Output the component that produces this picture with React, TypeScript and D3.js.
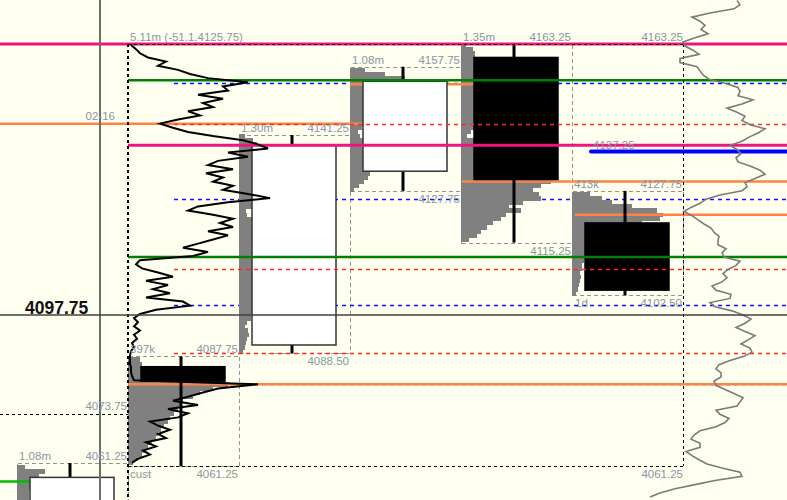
import React from 'react';
import * as d3 from 'd3';

const W = 787;
const H = 500;

// ---- sessions (daily candles + volume profiles) ----
const sessionVolume = ['1.08m', '397k', '1.30m', '1.08m', '1.35m', '413k'];
const sessionOpen = [4040.0, 4085.25, 4090.5, 4132.5, 4160.0, 4120.0];
const sessionHigh = [4061.25, 4087.75, 4141.25, 4157.75, 4163.25, 4127.75];
const sessionLow = [4035.0, 4061.25, 4088.5, 4127.75, 4115.25, 4102.5];
const sessionClose = [4058.5, 4081.75, 4138.75, 4154.25, 4130.5, 4103.75];
const highLabels = ['4061.25', '4087.75', '4141.25', '4157.75', '4163.25', '4127.75'];
const lowLabels = ['', '4061.25', '4088.50', '4127.75', '4115.25', '4102.50'];

// volume profile per session: first (top) price level, then one value per 1-point level going down
const profileTop = [4061, 4087, 4141, 4157, 4163, 4127];
const profile0 = [8, 28, 22, 16, 14, 14, 12, 12, 12];
const profile1 = [12, 14, 25, 35, 45, 60, 100, 85, 72, 65, 55, 52, 50, 46, 42, 40, 36, 33, 30, 28, 24, 20, 18, 14, 10, 5];
const profile2 = [6, 14, 18, 16, 16, 17, 16, 18, 16, 17, 18, 16, 17, 18, 16, 17, 16, 14, 7, 8, 15, 17, 16, 18, 16, 17, 18, 16, 17, 18, 17, 16, 18, 16, 17, 16, 15, 16, 17, 15, 16, 14, 15, 14, 12, 8, 6, 9, 10, 8, 7, 6, 4];
const profile3 = [15, 35, 55, 30, 20, 20, 22, 20, 18, 20, 22, 20, 18, 18, 12, 8, 10, 18, 20, 22, 20, 18, 20, 22, 24, 20, 18, 14, 9, 4];
const profile4 = [5, 12, 14, 14, 14, 14, 15, 16, 18, 16, 16, 18, 18, 17, 18, 20, 22, 20, 24, 22, 22, 10, 6, 20, 26, 14, 30, 34, 38, 40, 44, 50, 60, 90, 80, 72, 78, 80, 62, 48, 60, 45, 40, 32, 26, 20, 16, 8];
const profile5 = [18, 30, 40, 60, 85, 91, 88, 70, 55, 45, 40, 35, 30, 25, 20, 16, 12, 10, 10, 8, 9, 8, 7, 6, 4];
const profiles = [profile0, profile1, profile2, profile3, profile4, profile5];

// composite TPO line (black), from 4163 downwards by 1 point
const compositeTop = 4163;
const compositeLine = [
  3, 8, 12, 20, 38, 30, 50, 62, 80, 120,
  95, 100, 70, 95, 75, 85, 60, 72, 50, 32,
  45, 60, 85, 115, 130, 140, 100, 120, 90, 80,
  105, 78, 95, 85, 105, 95, 120, 142, 100, 70,
  60, 85, 105, 92, 105, 80, 100, 85, 70, 55,
  80, 65, 12, 8, 14, 30, 45, 18, 40, 25,
  42, 18, 55, 62, 28, 12, 6, 10, 6, 12,
  6, 9, 4, 6, 3, 2, 2, 2, 3, 3,
  4, 6, 130, 90, 75, 60, 45, 70, 40, 60,
  50, 22, 30, 42, 30, 38, 18, 28, 15, 22,
  10, 4,
];

// right-hand gray trace, from 4173.75 downwards by 1 point
const traceTop = 4173.75;
const traceLine = [
  117, 120, 114, 90, 72, 80, 85, 81, 88, 75,
  63, 65, 73, 79, 60, 60, 77, 80, 83, 89,
  105, 118, 120, 118, 133, 122, 107, 117, 125, 122,
  130, 145, 138, 129, 122, 110, 117, 121, 116, 118,
  130, 140, 145, 135, 125, 127, 122, 100, 86, 80,
  71, 64, 72, 78, 84, 91, 94, 99, 98, 98,
  106, 102, 104, 120, 116, 108, 103, 107, 102, 92,
  96, 111, 110, 90, 95, 112, 123, 131, 125, 116,
  125, 135, 128, 121, 130, 132, 124, 110, 99, 96,
  101, 101, 94, 96, 105, 114, 123, 120, 117, 96,
  100, 109, 105, 96, 80, 74, 71, 80, 80, 66,
  72, 79, 87, 102, 120, 122, 95, 75, 55, 40,
  30,
];

// horizontal levels
const magentaLevels = [4163.25, 4138.75];
const greenLevels = [4154.5, 4111.75, 4057.5];
const orangeLevels = [4144.0, 4153.5, 4130.0, 4122.0, 4081.0];
const blueDashLevels = [4153.75, 4125.75, 4100.25, 4081.0];
const redDashLevels = [4144.0, 4108.75, 4088.5];
const blueSolidLevels = [4137.25];
const crossPrice = 4097.75;
const crossPriceLabel = '4097.75';
const priorLevel = 4073.75;
const compositeHigh = 4163.25;
const compositeLow = 4061.25;
const compositeTitle = '5.11m (-51.1,4125.75)';
const dateLabel = '02-16';

const TXT = '#8896a6';
const FONT = 'Liberation Sans, Arial, sans-serif';

export default function App() {
  const y = d3.scaleLinear().domain([4061.25, 4163.25]).range([466, 44]);
  const xs = d3.scaleLinear().domain([0, 6]).range([17, 683]);
  const bx = d3.scaleLinear().domain([0, 150]).range([128, 278]);
  const tx = d3.scaleLinear().domain([0, 150]).range([620, 770]);
  const pw = d3.scaleLinear().domain([0, 100]).range([0, 100]);
  const yc = (p: number) => Math.round(y(p)) + 0.5;

  const lineComposite = d3
    .line<number>()
    .x((v) => bx(v))
    .y((_, i) => y(compositeTop - i));
  const lineTrace = d3
    .line<number>()
    .x((v) => tx(v))
    .y((_, i) => y(traceTop - i));

  const orangeExt: [number, number][] = [[0, 363], [350, 476], [462, W], [575, W], [128, W]];
  const greenExt: [number, number][] = [[128, W], [128, W], [0, 30]];
  const magentaExt: [number, number][] = [[0, W], [128, W]];

  const hl = (p: number, x1: number, x2: number, stroke: string, sw: number, dash?: string, key?: string) => (
    <line key={key} x1={x1} x2={x2} y1={y(p)} y2={y(p)} stroke={stroke} strokeWidth={sw} strokeDasharray={dash} />
  );
  const dl = (p: number, x1: number, x2: number, stroke: string, key: string) => (
    <line key={key} x1={x1} x2={x2} y1={yc(p)} y2={yc(p)} stroke={stroke} strokeWidth={1.6} strokeDasharray="4,4" />
  );

  return (
    <svg width={W} height={H} style={{ position: 'absolute', left: 0, top: 0, display: 'block' }}>
      <rect x={0} y={0} width={W} height={H} fill="#fffff0" />

      {/* session boxes */}
      {sessionHigh.map((h, i) => {
        const x1 = Math.round(xs(i)) + 0.5;
        const x2 = Math.round(xs(i + 1)) + 0.5;
        const yt = Math.round(i === 0 ? y(h) - 3 : y(h)) + 0.5;
        const yb = Math.round(y(sessionLow[i])) + 0.5;
        return (
          <g key={'box' + i} stroke="#939393" strokeWidth={1} strokeDasharray="4,3" fill="none" shapeRendering="crispEdges">
            <line x1={x1} x2={x2} y1={yt} y2={yt} />
            {i > 0 && <line x1={x1} x2={x2} y1={yb} y2={yb} />}
            <line x1={x2} x2={x2} y1={yt} y2={Math.min(yb, H)} />
            <line x1={x1} x2={x1} y1={yt} y2={Math.min(yb, H)} />
          </g>
        );
      })}

      {/* blue dashed value-area lines (under profiles) */}
      {blueDashLevels.map((p, i) => dl(p, 174, W, '#1010ff', 'bd' + i))}

      {/* gray volume profiles */}
      {profiles.map((vals, s) => (
        <g key={'pf' + s} fill="#808080" shapeRendering="crispEdges">
          {vals.map((v, k) => {
            const p = profileTop[s] - k;
            const yt = y(p + 0.5);
            const yb = y(p - 0.5);
            return <rect key={k} x={xs(s)} y={yt} width={pw(v)} height={yb - yt + 0.4} />;
          })}
        </g>
      ))}

      {/* orange POC lines */}
      {orangeLevels.map((p, i) => hl(p, orangeExt[i][0], orangeExt[i][1], '#ff8444', 2.5, undefined, 'or' + i))}
      {/* green line bottom-left (under candle) */}
      {hl(greenLevels[2], greenExt[2][0], greenExt[2][1], '#00c000', 2.5, undefined, 'g2')}
      {/* prior level dashed */}
      <line x1={0} x2={128} y1={yc(priorLevel)} y2={yc(priorLevel)} stroke="#000" strokeWidth={1} strokeDasharray="3,3" shapeRendering="crispEdges" />

      {/* candles */}
      {sessionOpen.map((o, i) => {
        const c = sessionClose[i];
        const up = c >= o;
        const xc = xs(i) + 53;
        const yTop = y(Math.max(o, c));
        const yBot = y(Math.min(o, c));
        return (
          <g key={'c' + i}>
            <line x1={xc} x2={xc} y1={i === 0 ? y(sessionHigh[i]) - 3 : y(sessionHigh[i])} y2={y(sessionLow[i])} stroke="#000" strokeWidth={3} />
            <rect
              x={xs(i) + 13}
              y={yTop}
              width={84}
              height={yBot - yTop}
              fill={up ? '#ffffff' : '#000000'}
              stroke={up ? '#333' : '#000'}
              strokeWidth={1.5}
            />
          </g>
        );
      })}

      {/* green, magenta, red dashed, blue solid on top */}
      {greenLevels.slice(0, 2).map((p, i) => hl(p, greenExt[i][0], greenExt[i][1], '#008000', 2.5, undefined, 'g' + i))}
      {redDashLevels.map((p, i) => dl(p, 174, W, '#ff2a2a', 'rd' + i))}
      {magentaLevels.map((p, i) => hl(p, magentaExt[i][0], magentaExt[i][1], '#f0147f', 3, undefined, 'm' + i))}
      {blueSolidLevels.map((p, i) => (
        <line key={'bs' + i} x1={591} x2={W} y1={y(p)} y2={y(p)} stroke="#0000ff" strokeWidth={4} strokeLinecap="round" />
      ))}

      {/* composite box */}
      <g stroke="#000" fill="none" shapeRendering="crispEdges">
        <line x1={xs(1)} x2={xs(6)} y1={yc(compositeHigh)} y2={yc(compositeHigh)} strokeWidth={1} strokeDasharray="3,3" />
        <line x1={xs(1)} x2={xs(6)} y1={yc(compositeLow)} y2={yc(compositeLow)} strokeWidth={1} strokeDasharray="3,3" />
        <line x1={xs(1)} x2={xs(1)} y1={y(compositeHigh)} y2={H} strokeWidth={2} strokeDasharray="3,3" />
        <line x1={xs(6) + 0.5} x2={xs(6) + 0.5} y1={y(compositeHigh)} y2={y(compositeLow)} strokeWidth={1} strokeDasharray="3,3" />
      </g>

      {/* composite TPO line and right trace */}
      <path d={lineComposite(compositeLine) || ''} fill="none" stroke="#000" strokeWidth={2} strokeLinejoin="miter" />
      <path d={lineTrace(traceLine) || ''} fill="none" stroke="#7a7a7a" strokeWidth={1.6} />

      {/* crosshair */}
      <line x1={100} x2={100} y1={0} y2={H} stroke="#6e6e6e" strokeWidth={2} />
      <line x1={0} x2={W} y1={y(crossPrice)} y2={y(crossPrice)} stroke="#404040" strokeWidth={1.5} />

      {/* texts */}
      <g fontFamily={FONT} fontSize={11.5} fill={TXT}>
        {sessionVolume.map((t, i) => (
          <text key={'v' + i} x={xs(i) + 2} y={y(sessionHigh[i]) - (i === 0 ? 6 : 3)}>
            {t}
          </text>
        ))}
        {highLabels.map((t, i) => (
          <text key={'h' + i} x={xs(i + 1) - 1} y={y(sessionHigh[i]) - (i === 0 ? 6 : 3)} textAnchor="end">
            {t}
          </text>
        ))}
        {lowLabels.map((t, i) =>
          t ? (
            <text key={'l' + i} x={xs(i + 1) - 1} y={y(sessionLow[i]) + 12} textAnchor="end">
              {t}
            </text>
          ) : null
        )}
        <text x={xs(5) + 3} y={y(sessionLow[5]) + 12}>1d</text>
        <text x={xs(1) + 2} y={y(compositeHigh) - 3}>{compositeTitle}</text>
        <text x={xs(6)} y={y(compositeHigh) - 3} textAnchor="end">{compositeHigh.toFixed(2)}</text>
        <text x={xs(1) + 2} y={y(compositeLow) + 12}>cust</text>
        <text x={xs(6)} y={y(compositeLow) + 12} textAnchor="end">{compositeLow.toFixed(2)}</text>
        <text x={593} y={y(blueSolidLevels[0]) - 3}>{blueSolidLevels[0].toFixed(2)}</text>
        <text x={115} y={120} textAnchor="end">{dateLabel}</text>
        <text x={127} y={y(priorLevel) - 4} textAnchor="end">{priorLevel.toFixed(2)}</text>
      </g>
      <text x={25} y={y(crossPrice) - 1} fontFamily={FONT} fontSize={17.5} fontWeight="bold" fill="#111">
        {crossPriceLabel}
      </text>
    </svg>
  );
}
